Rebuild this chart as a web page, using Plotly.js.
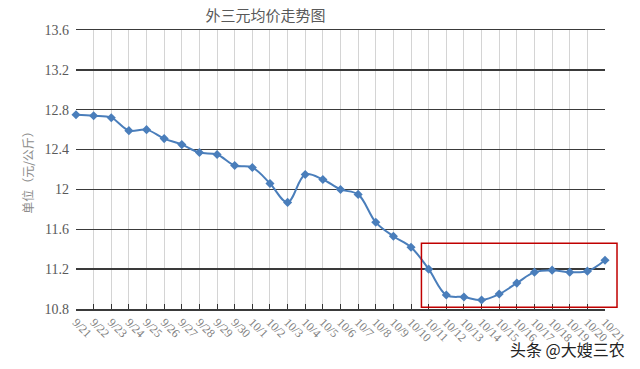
<!DOCTYPE html>
<html>
<head>
<meta charset="utf-8">
<script src="https://cdn.plot.ly/plotly-3.0.1.min.js"></script>
<style>html,body{margin:0;padding:0;background:#fff;}#chart{width:640px;height:369px;}</style>
</head>
<body>
<div id="chart"></div>
<script>
const dates = ["9/21","9/22","9/23","9/24","9/25","9/26","9/27","9/28","9/29","9/30",
  "10/1","10/2","10/3","10/4","10/5","10/6","10/7","10/8","10/9","10/10",
  "10/11","10/12","10/13","10/14","10/15","10/16","10/17","10/18","10/19","10/20","10/21"];
const prices = [12.75,12.74,12.72,12.59,12.60,12.51,12.45,12.37,12.35,12.24,
  12.22,12.06,11.87,12.15,12.10,12.00,11.95,11.67,11.53,11.42,
  11.20,10.94,10.92,10.89,10.95,11.06,11.17,11.19,11.17,11.18,11.29];
const yTicks = [10.8,11.2,11.6,12,12.4,12.8,13.2,13.6];
const yTickText = ["10.8","11.2","11.6","12","12.4","12.8","13.2","13.6"];

const trace = {
  x: dates, y: prices, type: 'scatter', mode: 'lines+markers',
  line: {color: '#4a7ebb', width: 2, shape: 'spline', smoothing: 1},
  marker: {symbol: 'diamond', size: 7, color: '#4a7ebb'},
  cliponaxis: false, hoverinfo: 'skip'
};

const layout = {
  width: 640, height: 369,
  margin: {l: 76, r: 35, t: 30, b: 60},
  paper_bgcolor: '#fff', plot_bgcolor: '#fff',
  showlegend: false,
  title: {text: '外三元均价走势图', x: 0.415, xanchor: 'center', y: 0.972, yanchor: 'top',
    font: {family: 'Noto Sans CJK SC', size: 15, color: '#595959'}},
  xaxis: {
    type: 'category', range: [0, 30],
    showgrid: true, gridcolor: '#d4d4d4', gridwidth: 1,
    tickangle: 45, ticks: 'inside', ticklen: 5, tickcolor: '#333',
    showline: true, mirror: true, linecolor: '#3a3a3a', linewidth: 1.5,
    tickfont: {family: 'Liberation Serif, serif', size: 12, color: '#7f7f7f'},
    fixedrange: true
  },
  yaxis: {
    range: [10.8, 13.6], tickvals: yTicks, ticktext: yTickText,
    showgrid: true, gridcolor: '#3a3a3a', gridwidth: 1.5,
    zeroline: false, showline: false, ticks: '',
    ticklabelstandoff: 6,
    tickfont: {family: 'Liberation Serif, serif', size: 14, color: '#595959'},
    title: {text: '单位（元/公斤）', standoff: 8,
      font: {family: 'Noto Sans CJK SC', size: 12, color: '#8c8c8c'}},
    fixedrange: true
  },
  shapes: [{
    type: 'rect', xref: 'paper', yref: 'paper',
    x0: 0.653, x1: 1.0227, y0: 0.006, y1: 0.2355,
    line: {color: '#c00000', width: 1.5}, fillcolor: 'rgba(0,0,0,0)'
  }],
  annotations: [{
    text: '头条 @大嫂三农', xref: 'paper', yref: 'paper',
    x: 1.042, y: -0.145, xanchor: 'right', yanchor: 'middle', showarrow: false,
    font: {family: 'Noto Sans CJK SC', size: 16, color: '#222'}
  }]
};

Plotly.newPlot('chart', [trace], layout, {displayModeBar: false, staticPlot: true});
</script>
</body>
</html>
